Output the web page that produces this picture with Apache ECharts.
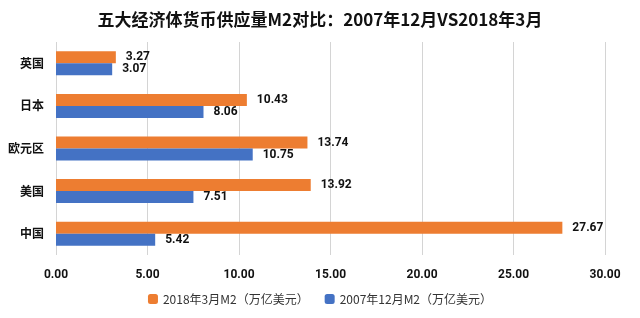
<!DOCTYPE html>
<html lang="zh">
<head>
    <meta charset="UTF-8">
    <title>五大经济体货币供应量M2对比</title>
    <script src="https://cdn.jsdelivr.net/npm/echarts@6.0.0/dist/echarts.min.js"></script>
    <style>
        html, body { margin: 0; padding: 0; background: #fff; }
        #chart { width: 640px; height: 318px; }
    </style>
</head>
<body>
<div id="chart"></div>
<script>
    // 数据
    var countries = ['中国', '美国', '欧元区', '日本', '英国'];
    var m2_2018 = [27.67, 13.92, 13.74, 10.43, 3.27];
    var m2_2007 = [5.42, 7.51, 10.75, 8.06, 3.07];
    var name2018 = '2018年3月M2（万亿美元）';
    var name2007 = '2007年12月M2（万亿美元）';

    var chart = echarts.init(document.getElementById('chart'));

    var labelStyle = {
        show: true,
        position: 'right',
        distance: 10,
        color: '#111',
        fontWeight: 'bold',
        fontSize: 12,
        fontFamily: 'Roboto, "Noto Sans CJK SC", sans-serif',
        formatter: function (p) { return p.value.toFixed(2); }
    };

    chart.setOption({
        animation: false,
        title: {
            text: '五大经济体货币供应量M2对比：2007年12月VS2018年3月',
            left: 'center',
            top: 6,
            textStyle: {
                fontSize: 17,
                fontWeight: 'bold',
                color: '#111',
                fontFamily: '"Noto Sans CJK SC", sans-serif'
            }
        },
        legend: {
            data: [name2018, name2007],
            bottom: 8,
            left: 'center',
            itemWidth: 10,
            itemHeight: 10,
            itemGap: 16,
            textStyle: {
                fontSize: 12,
                color: '#333',
                fontFamily: '"Noto Sans CJK SC", sans-serif'
            }
        },
        grid: {
            left: 56,
            right: 35,
            top: 42,
            bottom: 63
        },
        xAxis: {
            type: 'value',
            min: 0,
            max: 30,
            interval: 5,
            axisLine: { show: false },
            axisTick: { show: false },
            splitLine: { lineStyle: { color: '#d4d4d4', width: 1 } },
            axisLabel: {
                margin: 14,
                color: '#111',
                fontWeight: 'bold',
                fontSize: 12,
                fontFamily: 'Roboto, sans-serif',
                formatter: function (v) { return v.toFixed(2); }
            }
        },
        yAxis: {
            type: 'category',
            data: countries,
            axisLine: { show: false },
            axisTick: { show: false },
            axisLabel: {
                margin: 12,
                color: '#111',
                fontWeight: 'bold',
                fontSize: 12,
                fontFamily: '"Noto Sans CJK SC", sans-serif'
            }
        },
        series: [
            {
                name: name2018,
                type: 'bar',
                data: m2_2018,
                barWidth: 12,
                barGap: '0%',
                itemStyle: { color: '#ED7D31' },
                label: labelStyle
            },
            {
                name: name2007,
                type: 'bar',
                data: m2_2007,
                barWidth: 12,
                barGap: '0%',
                itemStyle: { color: '#4472C4' },
                label: labelStyle
            }
        ]
    });
</script>
</body>
</html>
